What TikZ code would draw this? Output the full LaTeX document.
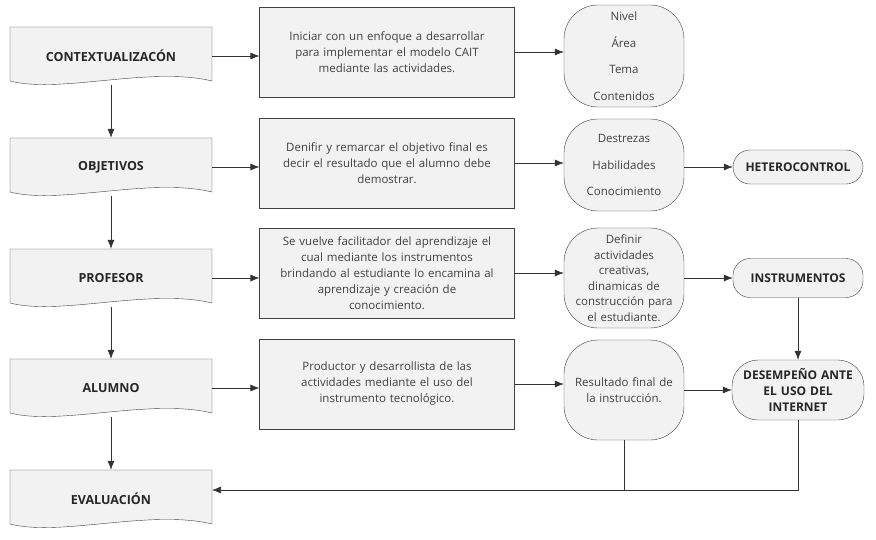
\documentclass[tikz,border=0pt]{standalone}
\usepackage{fontspec}
\setmainfont{Open Sans}
\usetikzlibrary{arrows.meta}
\begin{document}
\begin{tikzpicture}[x=1pt,y=-1pt,
  every node/.style={font=\fontsize{11.5}{16}\selectfont, text=black!75},
  lab/.style={font=\fontsize{12.5}{15}\selectfont\bfseries, text=black!85, minimum width=202pt, minimum height=58pt, inner sep=0},
  box/.style={draw=black!75, fill=black!5, minimum width=250pt, minimum height=90pt, align=center, text width=248pt},
  rnd/.style={draw=black!75, fill=black!5, rounded corners=34pt, minimum width=120pt, align=center, text width=120pt, inner sep=0pt},
  stad/.style={draw=black!75, fill=black!5, rounded corners=17pt, minimum width=130pt, align=center, font=\fontsize{12}{16}\selectfont\bfseries, text=black!85, inner sep=1pt},
  arr/.style={-{Latex[length=9pt,width=7pt]}, draw=black!80, semithick},
  ln/.style={draw=black!80, semithick}]
\useasboundingbox (0,0) rectangle (876,539);
\newcommand\docsh[1]{\draw[black!75, fill=black!5] (10,#1-29) -- (212,#1-29) -- (212,#1+25) .. controls (150,#1+10) and (60,#1+38) .. (10,#1+25) -- cycle;}
\docsh{56}\docsh{167}\docsh{278}\docsh{388}\docsh{499}
\node[lab] (c) at (111,56) {CONTEXTUALIZACÓN};
\node[lab] (o) at (111,167) {OBJETIVOS};
\node[lab] (p) at (111,278) {PROFESOR};
\node[lab] (a) at (111,388) {ALUMNO};
\node[lab] (e) at (111,499) {EVALUACIÓN};
\node[box] (m1) at (387,52) {Iniciar con un enfoque a desarrollar\\para implementar el modelo CAIT\\mediante las actividades.};
\node[box] (m2) at (387,163) {Denifir y remarcar el objetivo final es\\decir el resultado que el alumno debe\\demostrar.};
\node[box] (m3) at (387,273) {Se vuelve facilitador del aprendizaje el\\cual mediante los instrumentos\\brindando al estudiante lo encamina al\\aprendizaje y creación de\\conocimiento.};
\node[box] (m4) at (387,384) {Productor y desarrollista de las\\actividades mediante el uso del\\instrumento tecnológico.};
\node[rnd, minimum height=102pt, font=\fontsize{11.5}{26.5}\selectfont] (r1) at (624,56) {Nivel\\Área\\Tema\\Contenidos};
\node[rnd, minimum height=92pt, font=\fontsize{11.5}{26.5}\selectfont] (r2) at (624,165) {Destrezas\\Habilidades\\Conocimiento};
\node[rnd, minimum height=100pt, font=\fontsize{11.5}{15.5}\selectfont] (r3) at (624,278) {Definir\\actividades\\creativas,\\dinamicas de\\construcción para\\el estudiante.};
\node[rnd, minimum height=100pt] (r4) at (624,390) {Resultado final de\\la instrucción.};
\node[stad, minimum height=34pt] (h) at (798,167) {HETEROCONTROL};
\node[stad, minimum height=39pt] (i) at (798,278) {INSTRUMENTOS};
\node[stad, minimum height=60pt, text width=130pt, rounded corners=26pt] (d) at (798,390) {DESEMPEÑO ANTE\\EL USO DEL\\INTERNET};
\coordinate (ein) at (212,490);
\foreach \s/\t in {c/m1,o/m2,p/m3,a/m4}{\draw[arr] (\s.east) -- (\s.east -| \t.west);}
\foreach \s/\t in {m1/r1,m2/r2,m3/r3,m4/r4}{\draw[arr] (\s.east) -- (\s.east -| \t.west);}
\foreach \s/\t in {c/o,o/p,p/a,a/e}{\draw[arr] (\s.south) -- (\t.north);}
\draw[arr] (r2.east |- h) -- (h.west);
\draw[arr] (r3.east |- i) -- (i.west);
\draw[arr] (r4.east |- d) -- (d.west);
\draw[arr] (i.south) -- (d.north);
\draw[ln] (r4.south) -- (r4.south |- ein);
\draw[arr] (d.south) -- (d.south |- ein) -- (ein);
\end{tikzpicture}
\end{document}
